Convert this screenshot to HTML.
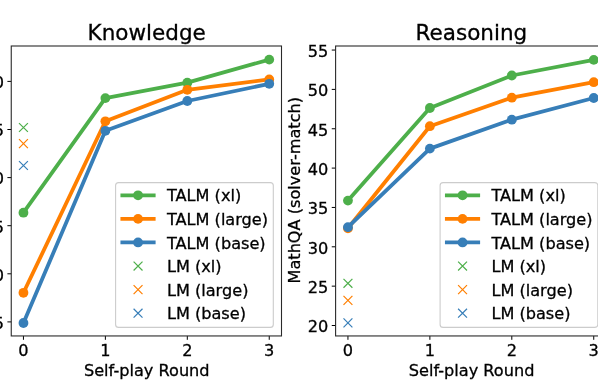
<!DOCTYPE html>
<html><head><meta charset="utf-8"><title>Self-play rounds</title>
<style>html,body{margin:0;padding:0;background:#fff;overflow:hidden}svg{display:block}text{stroke:#000;stroke-width:.3px}</style></head>
<body>
<svg width="598" height="384" viewBox="0 0 598 384" font-family="'DejaVu Sans', 'Liberation Sans', sans-serif" font-size="16.15" fill="#000">
<rect width="598" height="384" fill="#fff"/>
<g>
<polyline points="23.45,212.70 105.38,98.10 187.31,82.70 269.24,59.60" fill="none" stroke="#4daf4a" stroke-width="3.8" stroke-linejoin="round" stroke-linecap="butt"/>
<circle cx="23.45" cy="212.70" r="4.9" fill="#4daf4a"/>
<circle cx="105.38" cy="98.10" r="4.9" fill="#4daf4a"/>
<circle cx="187.31" cy="82.70" r="4.9" fill="#4daf4a"/>
<circle cx="269.24" cy="59.60" r="4.9" fill="#4daf4a"/>
<polyline points="23.45,292.80 105.38,121.30 187.31,89.80 269.24,79.40" fill="none" stroke="#ff7f00" stroke-width="3.8" stroke-linejoin="round" stroke-linecap="butt"/>
<circle cx="23.45" cy="292.80" r="4.9" fill="#ff7f00"/>
<circle cx="105.38" cy="121.30" r="4.9" fill="#ff7f00"/>
<circle cx="187.31" cy="89.80" r="4.9" fill="#ff7f00"/>
<circle cx="269.24" cy="79.40" r="4.9" fill="#ff7f00"/>
<polyline points="23.45,323.00 105.38,130.80 187.31,101.00 269.24,83.80" fill="none" stroke="#377eb8" stroke-width="3.8" stroke-linejoin="round" stroke-linecap="butt"/>
<circle cx="23.45" cy="323.00" r="4.9" fill="#377eb8"/>
<circle cx="105.38" cy="130.80" r="4.9" fill="#377eb8"/>
<circle cx="187.31" cy="101.00" r="4.9" fill="#377eb8"/>
<circle cx="269.24" cy="83.80" r="4.9" fill="#377eb8"/>
<path d="M19.00 123.05L27.90 131.95M19.00 131.95L27.90 123.05" stroke="#4daf4a" stroke-width="1.2" fill="none"/>
<path d="M19.00 139.15L27.90 148.05M19.00 148.05L27.90 139.15" stroke="#ff7f00" stroke-width="1.2" fill="none"/>
<path d="M19.00 161.05L27.90 169.95M19.00 169.95L27.90 161.05" stroke="#377eb8" stroke-width="1.2" fill="none"/>
<line x1="23.45" y1="335.95" x2="23.45" y2="339.8" stroke="#000" stroke-width="1.0"/>
<text x="23.45" y="355.9" text-anchor="middle">0</text>
<line x1="105.38" y1="335.95" x2="105.38" y2="339.8" stroke="#000" stroke-width="1.0"/>
<text x="105.38" y="355.9" text-anchor="middle">1</text>
<line x1="187.31" y1="335.95" x2="187.31" y2="339.8" stroke="#000" stroke-width="1.0"/>
<text x="187.31" y="355.9" text-anchor="middle">2</text>
<line x1="269.24" y1="335.95" x2="269.24" y2="339.8" stroke="#000" stroke-width="1.0"/>
<text x="269.24" y="355.9" text-anchor="middle">3</text>
<line x1="7.40" y1="81.40" x2="11.25" y2="81.40" stroke="#000" stroke-width="1.0"/>
<text x="4.05" y="88.20" text-anchor="end">0</text>
<line x1="7.40" y1="129.50" x2="11.25" y2="129.50" stroke="#000" stroke-width="1.0"/>
<text x="4.05" y="136.30" text-anchor="end">5</text>
<line x1="7.40" y1="177.60" x2="11.25" y2="177.60" stroke="#000" stroke-width="1.0"/>
<text x="4.05" y="184.40" text-anchor="end">0</text>
<line x1="7.40" y1="225.70" x2="11.25" y2="225.70" stroke="#000" stroke-width="1.0"/>
<text x="4.05" y="232.50" text-anchor="end">5</text>
<line x1="7.40" y1="273.80" x2="11.25" y2="273.80" stroke="#000" stroke-width="1.0"/>
<text x="4.05" y="280.60" text-anchor="end">0</text>
<line x1="7.40" y1="321.90" x2="11.25" y2="321.90" stroke="#000" stroke-width="1.0"/>
<text x="4.05" y="328.70" text-anchor="end">5</text>
<rect x="11.25" y="46.0" width="270.25" height="289.95" fill="none" stroke="#2a2a2a" stroke-width="1.1"/>
<text x="146.68" y="39.5" text-anchor="middle" font-size="21.5">Knowledge</text>
<text x="146.78" y="375.95" text-anchor="middle">Self-play Round</text>
<rect x="115.60" y="182.6" width="157.70" height="144.80" rx="3" ry="3" fill="#fff" fill-opacity="0.8" stroke="#cccccc" stroke-width="1.1"/>
<line x1="120.45" y1="195.30" x2="155.60" y2="195.30" stroke="#4daf4a" stroke-width="3.8"/>
<circle cx="138.05" cy="195.30" r="4.9" fill="#4daf4a"/>
<text x="166.90" y="201.45">TALM (xl)</text>
<line x1="120.45" y1="218.88" x2="155.60" y2="218.88" stroke="#ff7f00" stroke-width="3.8"/>
<circle cx="138.05" cy="218.88" r="4.9" fill="#ff7f00"/>
<text x="166.90" y="225.03">TALM (large)</text>
<line x1="120.45" y1="242.46" x2="155.60" y2="242.46" stroke="#377eb8" stroke-width="3.8"/>
<circle cx="138.05" cy="242.46" r="4.9" fill="#377eb8"/>
<text x="166.90" y="248.61">TALM (base)</text>
<path d="M133.60 261.59L142.50 270.49M133.60 270.49L142.50 261.59" stroke="#4daf4a" stroke-width="1.2" fill="none"/>
<text x="166.90" y="272.19">LM (xl)</text>
<path d="M133.60 285.17L142.50 294.07M133.60 294.07L142.50 285.17" stroke="#ff7f00" stroke-width="1.2" fill="none"/>
<text x="166.90" y="295.77">LM (large)</text>
<path d="M133.60 308.75L142.50 317.65M133.60 317.65L142.50 308.75" stroke="#377eb8" stroke-width="1.2" fill="none"/>
<text x="166.90" y="319.35">LM (base)</text>
</g>
<g>
<polyline points="347.95,200.60 429.88,108.00 511.81,75.50 593.74,59.90" fill="none" stroke="#4daf4a" stroke-width="3.8" stroke-linejoin="round" stroke-linecap="butt"/>
<circle cx="347.95" cy="200.60" r="4.9" fill="#4daf4a"/>
<circle cx="429.88" cy="108.00" r="4.9" fill="#4daf4a"/>
<circle cx="511.81" cy="75.50" r="4.9" fill="#4daf4a"/>
<circle cx="593.74" cy="59.90" r="4.9" fill="#4daf4a"/>
<polyline points="347.95,228.30 429.88,126.20 511.81,97.70 593.74,82.20" fill="none" stroke="#ff7f00" stroke-width="3.8" stroke-linejoin="round" stroke-linecap="butt"/>
<circle cx="347.95" cy="228.30" r="4.9" fill="#ff7f00"/>
<circle cx="429.88" cy="126.20" r="4.9" fill="#ff7f00"/>
<circle cx="511.81" cy="97.70" r="4.9" fill="#ff7f00"/>
<circle cx="593.74" cy="82.20" r="4.9" fill="#ff7f00"/>
<polyline points="347.95,227.20 429.88,148.60 511.81,119.70 593.74,98.00" fill="none" stroke="#377eb8" stroke-width="3.8" stroke-linejoin="round" stroke-linecap="butt"/>
<circle cx="347.95" cy="227.20" r="4.9" fill="#377eb8"/>
<circle cx="429.88" cy="148.60" r="4.9" fill="#377eb8"/>
<circle cx="511.81" cy="119.70" r="4.9" fill="#377eb8"/>
<circle cx="593.74" cy="98.00" r="4.9" fill="#377eb8"/>
<path d="M343.50 278.85L352.40 287.75M343.50 287.75L352.40 278.85" stroke="#4daf4a" stroke-width="1.2" fill="none"/>
<path d="M343.50 295.95L352.40 304.85M343.50 304.85L352.40 295.95" stroke="#ff7f00" stroke-width="1.2" fill="none"/>
<path d="M343.50 318.45L352.40 327.35M343.50 327.35L352.40 318.45" stroke="#377eb8" stroke-width="1.2" fill="none"/>
<line x1="347.95" y1="335.95" x2="347.95" y2="339.8" stroke="#000" stroke-width="1.0"/>
<text x="347.95" y="355.9" text-anchor="middle">0</text>
<line x1="429.88" y1="335.95" x2="429.88" y2="339.8" stroke="#000" stroke-width="1.0"/>
<text x="429.88" y="355.9" text-anchor="middle">1</text>
<line x1="511.81" y1="335.95" x2="511.81" y2="339.8" stroke="#000" stroke-width="1.0"/>
<text x="511.81" y="355.9" text-anchor="middle">2</text>
<line x1="593.74" y1="335.95" x2="593.74" y2="339.8" stroke="#000" stroke-width="1.0"/>
<text x="593.74" y="355.9" text-anchor="middle">3</text>
<line x1="331.75" y1="50.05" x2="335.60" y2="50.05" stroke="#000" stroke-width="1.0"/>
<text x="328.40" y="56.85" text-anchor="end">55</text>
<line x1="331.75" y1="89.40" x2="335.60" y2="89.40" stroke="#000" stroke-width="1.0"/>
<text x="328.40" y="96.20" text-anchor="end">50</text>
<line x1="331.75" y1="128.75" x2="335.60" y2="128.75" stroke="#000" stroke-width="1.0"/>
<text x="328.40" y="135.55" text-anchor="end">45</text>
<line x1="331.75" y1="168.10" x2="335.60" y2="168.10" stroke="#000" stroke-width="1.0"/>
<text x="328.40" y="174.90" text-anchor="end">40</text>
<line x1="331.75" y1="207.45" x2="335.60" y2="207.45" stroke="#000" stroke-width="1.0"/>
<text x="328.40" y="214.25" text-anchor="end">35</text>
<line x1="331.75" y1="246.80" x2="335.60" y2="246.80" stroke="#000" stroke-width="1.0"/>
<text x="328.40" y="253.60" text-anchor="end">30</text>
<line x1="331.75" y1="286.15" x2="335.60" y2="286.15" stroke="#000" stroke-width="1.0"/>
<text x="328.40" y="292.95" text-anchor="end">25</text>
<line x1="331.75" y1="325.50" x2="335.60" y2="325.50" stroke="#000" stroke-width="1.0"/>
<text x="328.40" y="332.30" text-anchor="end">20</text>
<rect x="335.60" y="46.0" width="270.40" height="289.95" fill="none" stroke="#2a2a2a" stroke-width="1.1"/>
<text x="471.40" y="39.5" text-anchor="middle" font-size="21.5">Reasoning</text>
<text x="471.60" y="375.95" text-anchor="middle">Self-play Round</text>
<text transform="translate(299.95,190.22) rotate(-90)" text-anchor="middle">MathQA (solver-match)</text>
<rect x="440.10" y="182.6" width="157.70" height="144.80" rx="3" ry="3" fill="#fff" fill-opacity="0.8" stroke="#cccccc" stroke-width="1.1"/>
<line x1="444.95" y1="195.30" x2="480.10" y2="195.30" stroke="#4daf4a" stroke-width="3.8"/>
<circle cx="462.55" cy="195.30" r="4.9" fill="#4daf4a"/>
<text x="491.40" y="201.45">TALM (xl)</text>
<line x1="444.95" y1="218.88" x2="480.10" y2="218.88" stroke="#ff7f00" stroke-width="3.8"/>
<circle cx="462.55" cy="218.88" r="4.9" fill="#ff7f00"/>
<text x="491.40" y="225.03">TALM (large)</text>
<line x1="444.95" y1="242.46" x2="480.10" y2="242.46" stroke="#377eb8" stroke-width="3.8"/>
<circle cx="462.55" cy="242.46" r="4.9" fill="#377eb8"/>
<text x="491.40" y="248.61">TALM (base)</text>
<path d="M458.10 261.59L467.00 270.49M458.10 270.49L467.00 261.59" stroke="#4daf4a" stroke-width="1.2" fill="none"/>
<text x="491.40" y="272.19">LM (xl)</text>
<path d="M458.10 285.17L467.00 294.07M458.10 294.07L467.00 285.17" stroke="#ff7f00" stroke-width="1.2" fill="none"/>
<text x="491.40" y="295.77">LM (large)</text>
<path d="M458.10 308.75L467.00 317.65M458.10 317.65L467.00 308.75" stroke="#377eb8" stroke-width="1.2" fill="none"/>
<text x="491.40" y="319.35">LM (base)</text>
</g>
</svg>
</body></html>
